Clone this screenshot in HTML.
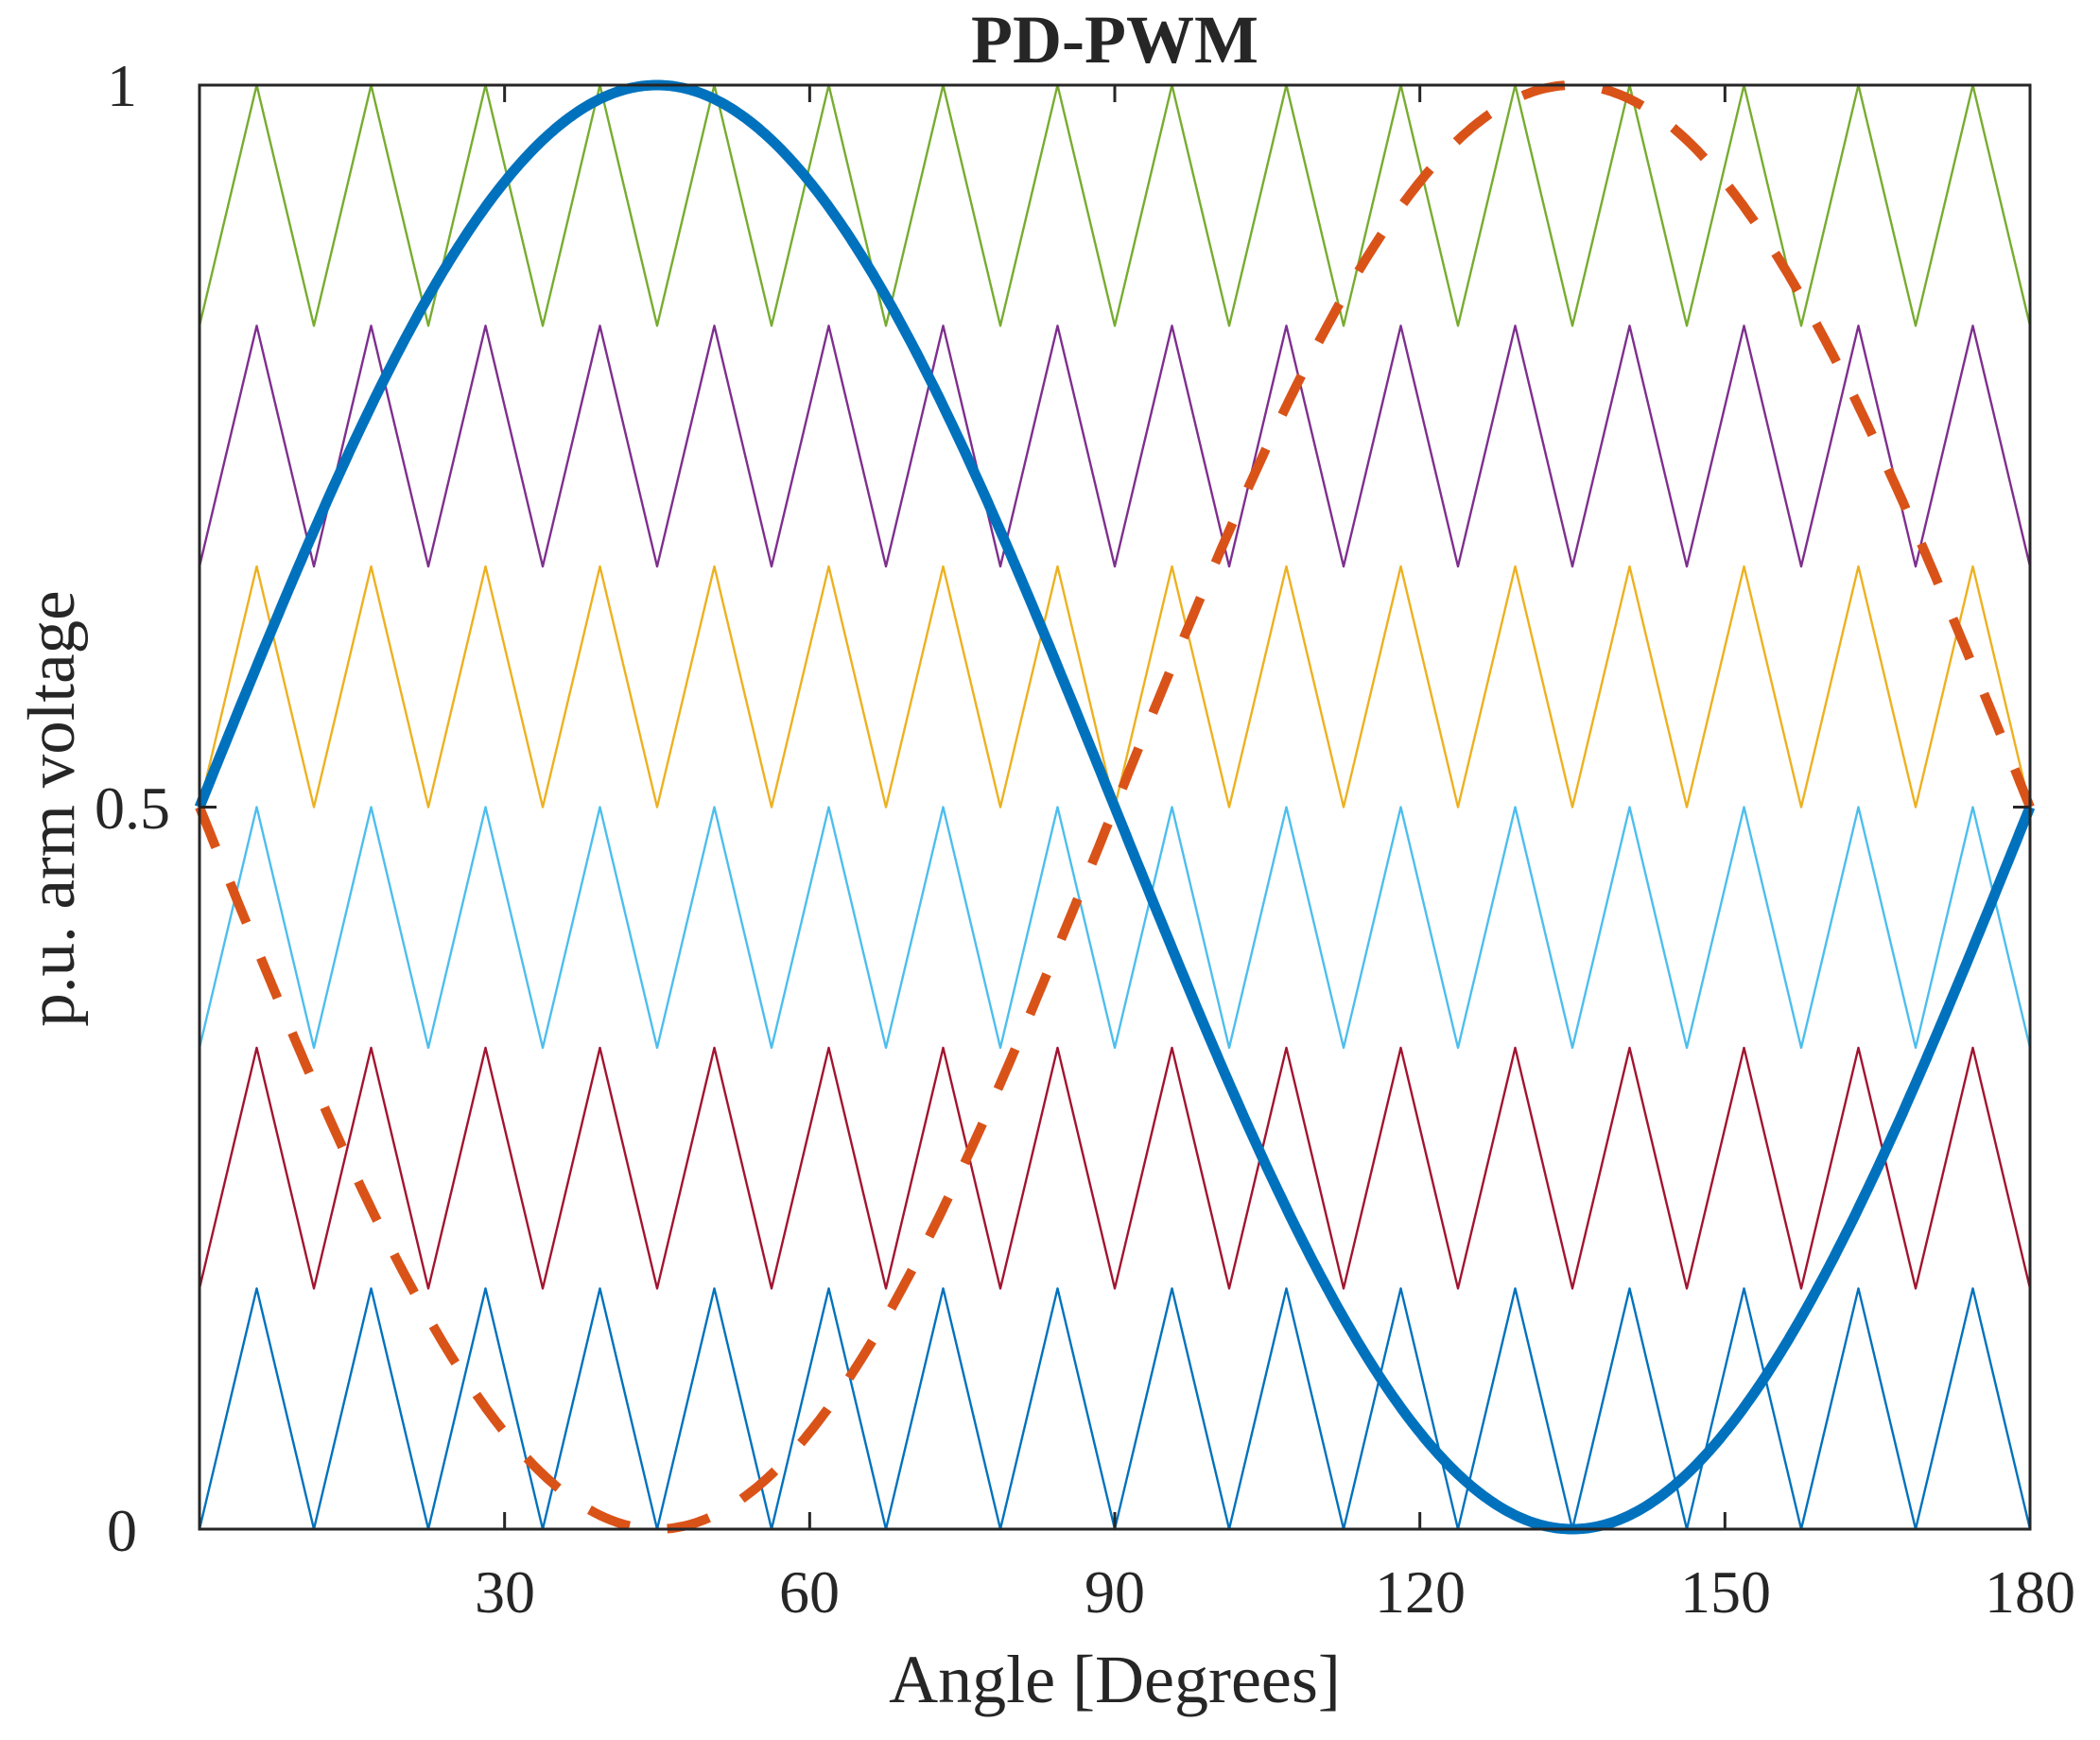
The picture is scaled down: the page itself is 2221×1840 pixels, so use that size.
<!DOCTYPE html>
<html><head><meta charset="utf-8"><style>
html,body{margin:0;padding:0;background:#fff;}
svg{display:block;}
text{font-family:"Liberation Serif",serif;fill:#262626;}
</style></head><body>
<svg id="s" width="2221" height="1840" viewBox="0 0 2221 1840" xmlns="http://www.w3.org/2000/svg">
<g id="plot"></g>
<rect x="211" y="90" width="1936" height="1527" fill="none" stroke="#262626" stroke-width="3"/>
<g id="ticks" stroke="#262626" stroke-width="3"></g>
<text x="1179" y="66" font-size="72" font-weight="bold" text-anchor="middle">PD-PWM</text>
<text x="145" y="112" font-size="64" text-anchor="end">1</text>
<text x="180" y="876" font-size="64" text-anchor="end">0.5</text>
<text x="145" y="1640" font-size="64" text-anchor="end">0</text>
<g font-size="64" text-anchor="middle">
<text x="534" y="1705">30</text>
<text x="856" y="1705">60</text>
<text x="1179" y="1705">90</text>
<text x="1502" y="1705">120</text>
<text x="1825" y="1705">150</text>
<text x="2147" y="1705">180</text>
</g>
<text x="1179" y="1800" font-size="72" text-anchor="middle">Angle [Degrees]</text>
<text transform="translate(78,855) rotate(-90)" font-size="71" text-anchor="middle">p.u. arm voltage</text>
</svg>
<script>
var L=211,R=2147,T=90,B=1617;
function X(d){return L+(R-L)*d/180;}
function Y(v){return B-(B-T)*v;}
var g=document.getElementById('plot'),ns="http://www.w3.org/2000/svg";
function path(d,c,w,extra){var p=document.createElementNS(ns,'path');p.setAttribute('d',d);p.setAttribute('stroke',c);p.setAttribute('stroke-width',w);p.setAttribute('fill','none');p.setAttribute('stroke-linejoin','round');if(extra)for(var k in extra)p.setAttribute(k,extra[k]);g.appendChild(p);}
var cols=['#0072BD','#A2142F','#4DBEEE','#EDB120','#7E2F8E','#77AC30'];
for(var k=0;k<6;k++){var d='';for(var i=0;i<=32;i++){var a=i*5.625;var v=k/6+((i%2)?1/6:0);d+=(i?'L':'M')+X(a).toFixed(1)+' '+Y(v).toFixed(1)+' ';}path(d,cols[k],2.4);}
var d1='',d2='';for(var i=0;i<=720;i++){var a=i*0.25;var s=Math.sin(2*a*Math.PI/180);d1+=(i?'L':'M')+X(a).toFixed(1)+' '+Y(0.5+0.5*s).toFixed(1)+' ';d2+=(i?'L':'M')+X(a).toFixed(1)+' '+Y(0.5-0.5*s).toFixed(1)+' ';}
path(d2,'#D95319',10,{'stroke-dasharray':'46 40'});
path(d1,'#0072BD',11);
var t=document.getElementById('ticks'),s='';
[30,60,90,120,150].forEach(function(a){var x=X(a);s+='M'+x+' '+B+'V'+(B-18)+'M'+x+' '+T+'V'+(T+18);});
[0,0.5,1].forEach(function(v){var y=Y(v);s+='M'+L+' '+y+'H'+(L+18)+'M'+R+' '+y+'H'+(R-18);});
var p=document.createElementNS(ns,'path');p.setAttribute('d',s);t.appendChild(p);
</script>
</body></html>
